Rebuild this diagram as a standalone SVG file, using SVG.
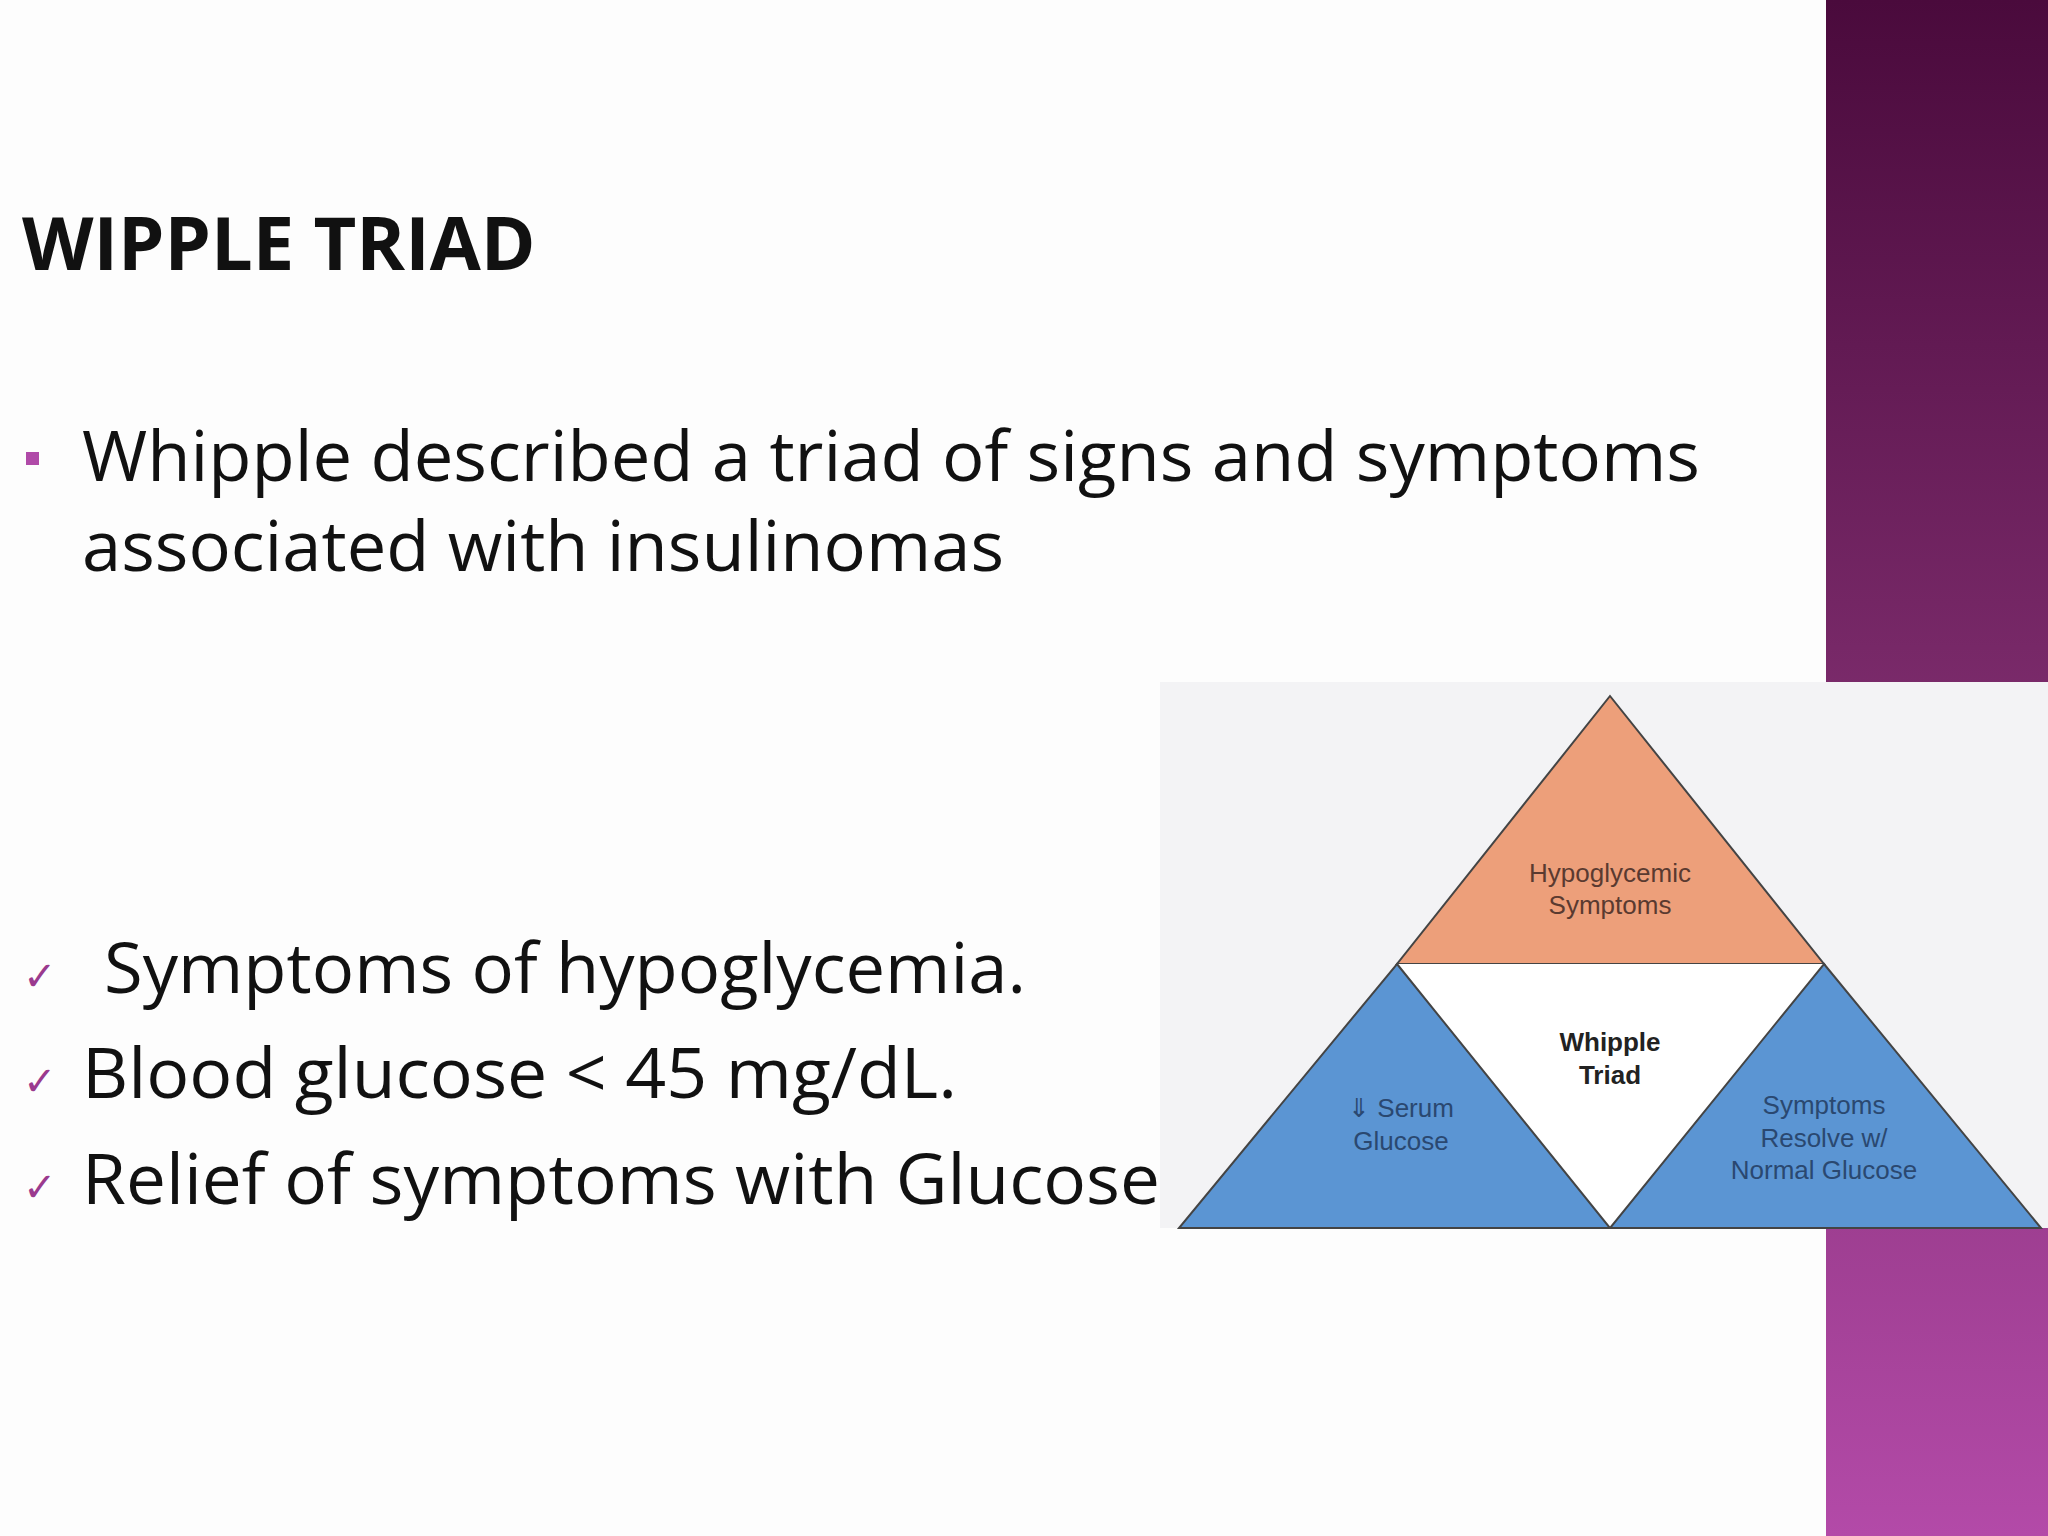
<svg xmlns="http://www.w3.org/2000/svg" width="2048" height="1536" viewBox="0 0 2048 1536">
<defs>
<linearGradient id="bar" x1="0" y1="0" x2="0" y2="1">
<stop offset="0" stop-color="#4a0a3c"/><stop offset="0.45" stop-color="#7a2a6a"/><stop offset="1" stop-color="#b34aa8"/>
</linearGradient>
<style>
.t{font-family:"Open Sans","Noto Sans",sans-serif;fill:#111}
.s{font-family:"Liberation Sans",Arial,sans-serif;font-size:26px;text-anchor:middle}
.ck{font-family:"DejaVu Sans",sans-serif;fill:#9a3a8e;font-size:40px}
.tri{stroke:#444;stroke-width:2}
</style>
</defs>
<rect width="2048" height="1536" fill="#fdfdfd"/>
<rect x="1826" y="0" width="222" height="1536" fill="url(#bar)"/>
<g id="title"><text class="t" x="22" y="270" font-size="74" font-weight="bold">WIPPLE TRIAD</text></g>
<g id="bullet">
<rect x="26" y="452" width="13" height="13" fill="#b04aa8"/>
<text class="t" x="82" y="481" font-size="70" textLength="1618" lengthAdjust="spacingAndGlyphs">Whipple described a triad of signs and symptoms</text>
<text class="t" x="82" y="571" font-size="70" textLength="922" lengthAdjust="spacingAndGlyphs">associated with insulinomas</text>
</g>
<g id="checks">
<text class="ck" x="23" y="990">✓</text>
<text class="t" x="104" y="993" font-size="70" textLength="922" lengthAdjust="spacingAndGlyphs">Symptoms of hypoglycemia.</text>
<text class="ck" x="23" y="1095">✓</text>
<text class="t" x="82" y="1098" font-size="70" textLength="875" lengthAdjust="spacingAndGlyphs">Blood glucose &lt; 45 mg/dL.</text>
<text class="ck" x="23" y="1201">✓</text>
<text class="t" x="82" y="1204" font-size="70" textLength="1078" lengthAdjust="spacingAndGlyphs">Relief of symptoms with Glucose</text>
</g>
<g id="figure">
<rect x="1160" y="682" width="888" height="546" fill="#f3f3f5"/>
<g id="top"><polygon class="tri" points="1610,696 1824,964 1397,964" fill="#ed9f7a"/>
<text class="s" x="1610" y="882" fill="#5a3a30">Hypoglycemic</text><text class="s" x="1610" y="914" fill="#5a3a30">Symptoms</text></g>
<g id="center"><polygon points="1397,964 1824,964 1610,1228" fill="#ffffff"/>
<text class="s" x="1610" y="1051" font-weight="bold" fill="#222">Whipple</text><text class="s" x="1610" y="1084" font-weight="bold" fill="#222">Triad</text></g>
<g id="left"><polygon class="tri" points="1397,964 1610,1228 1179,1228" fill="#5b95d3"/>
<text class="s" x="1401" y="1117" fill="#2a4870">⇓ Serum</text><text class="s" x="1401" y="1150" fill="#2a4870">Glucose</text></g>
<g id="right"><polygon class="tri" points="1824,964 2041,1228 1610,1228" fill="#5b95d3"/>
<text class="s" x="1824" y="1114" fill="#2a4870">Symptoms</text><text class="s" x="1824" y="1147" fill="#2a4870">Resolve w/</text><text class="s" x="1824" y="1179" fill="#2a4870">Normal Glucose</text></g>
</g>
</svg>
